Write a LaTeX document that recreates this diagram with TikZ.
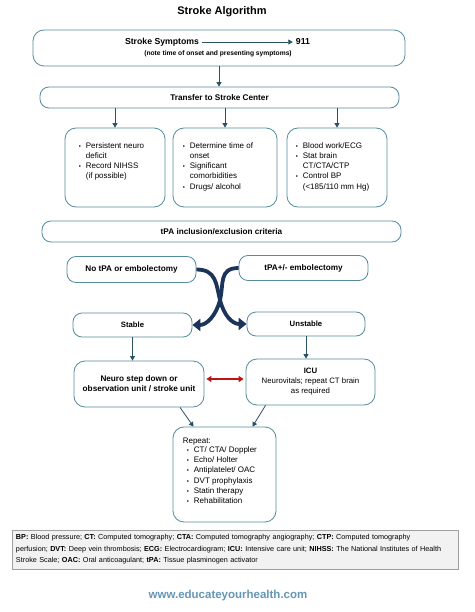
\documentclass[tikz,border=0pt]{standalone}
\usepackage{fontspec}
\setmainfont{Liberation Sans}
\usetikzlibrary{calc,positioning,arrows.meta}
\definecolor{boxline}{RGB}{84,140,158}
\definecolor{arrowcol}{RGB}{42,82,98}
\definecolor{navy}{RGB}{28,52,90}
\definecolor{redline}{RGB}{192,20,20}
\definecolor{urlcol}{RGB}{100,150,182}
\definecolor{notefill}{RGB}{242,242,242}
\definecolor{noteline}{RGB}{160,160,160}
\tikzstyle{rbox} = [rectangle, draw=boxline, line width=0.8pt, rounded corners=9pt, text centered, inner sep=0pt]
\tikzstyle{arrow} = [draw=arrowcol, line width=0.8pt, -{Triangle[length=4.5pt,width=5pt]}]
\tikzstyle{bigarrow} = [draw=navy, line width=3.8pt, -{Triangle[length=8pt,width=12pt]}]
\tikzstyle{redarrow} = [draw=redline, line width=1.3pt, {Triangle[length=5pt,width=6pt]}-{Triangle[length=5pt,width=6pt]}]
\tikzstyle{listtext} = [anchor=north west, align=left, inner sep=0pt, font=\fontsize{8}{10.3}\selectfont]
\tikzstyle{label} = [font=\fontsize{8.2}{10}\selectfont\bfseries, align=center, inner sep=1pt]
\newcommand{\bul}{{\fontsize{6}{6}\selectfont\textbullet}}

\begin{document}
\begin{tikzpicture}[x=1pt, y=-1pt]
            \useasboundingbox[fill=white] (0,0) rectangle (474,612);
            \node (title) at (222,12) {\fontsize{11}{13}\selectfont\bfseries Stroke Algorithm};

            % top boxes
            \node (sym) [rbox, minimum width=372pt, minimum height=36pt, rounded corners=11pt] at (219,48) {};
            \node (symp) [label, font=\fontsize{8.7}{10}\selectfont\bfseries] at (162,42) {Stroke Symptoms};
            \node (n911) [label, font=\fontsize{8.7}{10}\selectfont\bfseries] at (303,42) {911};
            \node (onset) [label, font=\fontsize{6.7}{8}\selectfont\bfseries] at (218,54) {(note time of onset and presenting symptoms)};
            \node (transfer) [rbox, label, minimum width=359pt, minimum height=21pt] at (219.5,97.5) {Transfer to Stroke Center};

            % three assessment boxes
            \node (b1) [rbox, minimum width=100pt, minimum height=79pt, rounded corners=11pt] at (115,167.5) {};
            \node (b2) [rbox, minimum width=104pt, minimum height=79pt, rounded corners=11pt] at (225,167.5) {};
            \node (b3) [rbox, minimum width=100pt, minimum height=79pt, rounded corners=11pt] at (337,167.5) {};
            \node (t1) [listtext] at ($(b1.north west)+(14,13)$) {%
                \begin{tabular}{@{}l@{\hspace{5pt}}l@{}}
                \bul & Persistent neuro\\ & deficit\\
                \bul & Record NIHSS\\ & (if possible)
                \end{tabular}};
            \node (t2) [listtext] at ($(b2.north west)+(10,13)$) {%
                \begin{tabular}{@{}l@{\hspace{5pt}}l@{}}
                \bul & Determine time of\\ & onset\\
                \bul & Significant\\ & comorbidities\\
                \bul & Drugs/ alcohol
                \end{tabular}};
            \node (t3) [listtext] at ($(b3.north west)+(9,13)$) {%
                \begin{tabular}{@{}l@{\hspace{5pt}}l@{}}
                \bul & Blood work/ECG\\
                \bul & Stat brain\\ & CT/CTA/CTP\\
                \bul & Control BP\\ & (\textless185/110 mm Hg)
                \end{tabular}};

            \node (crit) [rbox, label, minimum width=359pt, minimum height=21pt] at (221.5,231.5) {tPA inclusion/exclusion criteria};

            % treatment and status
            \node (notpa) [rbox, label, minimum width=129pt, minimum height=26pt] at (131.5,269.5) {No tPA or embolectomy};
            \node (tpa) [rbox, label, minimum width=129pt, minimum height=25pt] at (303.5,268) {tPA+/- embolectomy};
            \node (stable) [rbox, label, font=\fontsize{7.7}{10}\selectfont\bfseries, minimum width=119pt, minimum height=24pt] at (132.5,325) {Stable};
            \node (unstable) [rbox, label, font=\fontsize{7.7}{10}\selectfont\bfseries, minimum width=118pt, minimum height=24pt] at (306,324) {Unstable};
            \node (neuro) [rbox, label, minimum width=130pt, minimum height=46pt, rounded corners=11pt] at (139,384) {Neuro step down or\\observation unit / stroke unit};
            \node (icu) [rbox, align=center, font=\fontsize{7.8}{10}\selectfont, minimum width=129pt, minimum height=46pt, rounded corners=11pt] at (310.5,382) {\textbf{ICU}\\Neurovitals; repeat CT brain\\as required};

            \node (rep) [rbox, minimum width=103pt, minimum height=95pt, rounded corners=11pt] at (224.5,474.5) {};
            \node (reptext) [listtext] at ($(rep.north west)+(10,11)$) {%
                Repeat:\\[-1pt]
                \hspace*{4pt}\begin{tabular}{@{}l@{\hspace{5pt}}l@{}}
                \bul & CT/ CTA/ Doppler\\
                \bul & Echo/ Holter\\
                \bul & Antiplatelet/ OAC\\
                \bul & DVT prophylaxis\\
                \bul & Statin therapy\\
                \bul & Rehabilitation
                \end{tabular}};

            % abbreviations and site
            \node (notes) [rectangle, draw=noteline, fill=notefill, line width=0.6pt, minimum width=445pt, minimum height=39pt, text width=439pt, align=left, font=\fontsize{7.25}{11.5}\selectfont] at (235.5,549.5) {%
                \textbf{BP:} Blood pressure; \textbf{CT:} Computed tomography; \textbf{CTA:} Computed tomography angiography; \textbf{CTP:} Computed tomography\\
                perfusion; \textbf{DVT:} Deep vein thrombosis; \textbf{ECG:} Electrocardiogram; \textbf{ICU:} Intensive care unit; \textbf{NIHSS:} The National Institutes of Health\\
                Stroke Scale; \textbf{OAC:} Oral anticoagulant; \textbf{tPA:} Tissue plasminogen activator};
            \node (url) at (228,596) {\fontsize{11.5}{13}\selectfont\bfseries\color{urlcol}www.educateyourhealth.com};

            % connectors
            \draw [arrow, shorten <=2pt, shorten >=2pt] (symp) -- (n911);
            \draw [arrow] (sym.south) -- (sym.south |- transfer.north);
            \draw [arrow] (b1.north |- transfer.south) -- (b1.north);
            \draw [arrow] (b2.north |- transfer.south) -- (b2.north);
            \draw [arrow] (b3.north |- transfer.south) -- (b3.north);
            \coordinate (cross) at (220,300);
            \draw [bigarrow] (notpa.east) .. controls +(20,0) and +(-4,-16) .. (cross) .. controls +(4,16) and +(-14,0) .. (unstable.west);
            \draw [bigarrow] (tpa.west) .. controls +(-20,0) and +(4,-16) .. (cross) .. controls +(-4,16) and +(14,0) .. (stable.east);
            \draw [arrow] (stable.south) -- (stable.south |- neuro.north);
            \draw [arrow] (unstable.south) -- (unstable.south |- icu.north);
            \draw [redarrow, shorten <=2pt, shorten >=2pt] ([yshift=5pt]neuro.east) -- ([yshift=5pt]neuro.east -| icu.west);
            \draw [arrow] ([xshift=41pt]neuro.south) -- ([xshift=-31pt]rep.north);
            \draw [arrow] ([xshift=-45pt]icu.south) -- ([xshift=28pt]rep.north);
        \end{tikzpicture}
\end{document}
